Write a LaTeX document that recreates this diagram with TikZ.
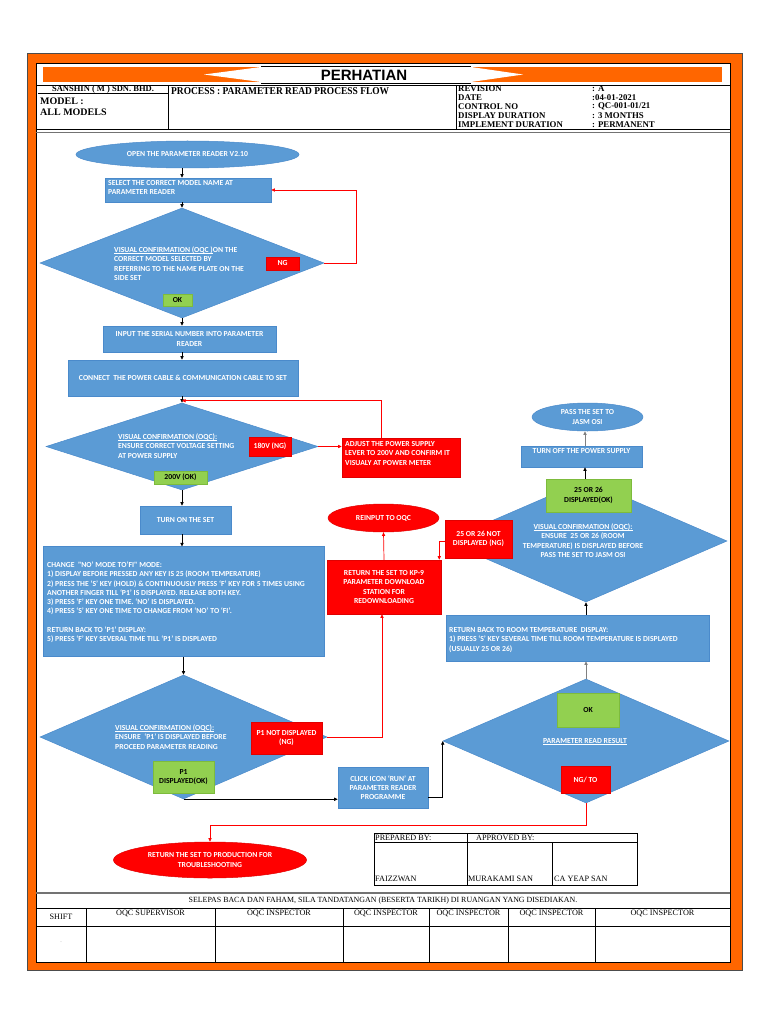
\documentclass[tikz,border=0pt]{standalone}
\usepackage{fontspec}
\setmainfont{Liberation Serif}
\newfontfamily\calfont{Carlito}
\newfontfamily\arialfont{Liberation Sans}
\usetikzlibrary{shapes.geometric,arrows.meta,calc}
\definecolor{blueF}{HTML}{5B9BD5}
\definecolor{blueD}{HTML}{4A8ACB}
\definecolor{redF}{HTML}{FF0000}
\definecolor{redD}{HTML}{E00000}
\definecolor{greenF}{HTML}{92D050}
\definecolor{greenD}{HTML}{7DBB3C}
\definecolor{orangeF}{HTML}{FF6600}
\newcommand\bxf{\calfont\bfseries\fontsize{7.7}{9.2}\selectfont}
\newcommand\hdf{\bfseries\fontsize{8.8}{9}\selectfont}
\newcommand\tbf{\fontsize{8.2}{9}\selectfont}
\newsavebox\ulbox
\newcommand\ulx[1]{\sbox\ulbox{#1}\rlap{\rule[-1.2pt]{\wd\ulbox}{0.45pt}}\usebox\ulbox}
\begin{document}
\begin{tikzpicture}[x=1pt,y=-1pt,
  bbox/.style={rectangle,fill=blueF,draw=blueD,line width=0.5pt,inner sep=0pt,text=white,font=\bxf,align=center},
  rbox/.style={rectangle,fill=redF,draw=redD,line width=0.5pt,inner sep=0pt,text=white,font=\bxf,align=center},
  gbox/.style={rectangle,fill=greenF,draw=greenD,line width=0.5pt,inner sep=0pt,text=black,font=\bxf,align=center},
  bdia/.style={diamond,fill=blueF,draw=blueD,line width=0.5pt,inner sep=0pt},
  bell/.style={ellipse,fill=blueF,draw=blueD,line width=0.5pt,inner sep=0pt,text=white,font=\bxf,align=center},
  rell/.style={ellipse,fill=redF,draw=redD,line width=0.5pt,inner sep=0pt,text=white,font=\bxf,align=center},
  txl/.style={inner sep=0pt,anchor=north west,align=left,text=white,font=\bxf},
  txc/.style={inner sep=0pt,anchor=north,align=center,text=white,font=\bxf},
  arr/.style={-{Triangle[length=3.6pt,width=3.2pt]},line width=0.7pt,black},
  garr/.style={-{Triangle[length=3.6pt,width=3.2pt]},line width=0.9pt,black!50},
  rarr/.style={-{Triangle[length=3.6pt,width=3.2pt]},line width=0.7pt,redF},
  hdr/.style={inner sep=0pt,anchor=west,font=\hdf},
  sig/.style={inner sep=0pt,anchor=west,font=\tbf},
  tbh/.style={inner sep=0pt,font=\tbf},
  rule/.style={line width=0.8pt}]
\useasboundingbox (0,0) rectangle (768,1024);
% frame
\filldraw[fill=orangeF,draw=black!70,line width=1pt] (27,54) rectangle (742,970);
\filldraw[fill=white,draw=black,line width=0.8pt] (36,63) rectangle (730,962);
% header
\fill[orangeF] (43,67) rectangle (722,82);
\fill[white] (204,74.5) -- (261,67) -- (471,67) -- (523,74.5) -- (471,82) -- (261,82) -- cycle;
\draw[rule] (261,66.3) -- (471,66.3) (261,83.6) -- (471,83.6);
\node[font=\arialfont\bfseries\fontsize{15}{16}\selectfont,inner sep=0pt] (ttl) at (364,75) {PERHATIAN};
\draw[rule] (36,85) -- (730,85);
\draw[line width=0.6pt] (38,93.5) -- (168,93.5);
\draw[rule] (168,85) -- (168,130) (456,85) -- (456,130);
\draw[rule] (36,129.5) -- (730,129.5);
\draw[line width=1.2pt,black!55] (36,132.6) -- (730,132.6);
\node[inner sep=0pt,font=\bfseries\fontsize{8.5}{9}\selectfont] (co) at (103,89) {SANSHIN ( M ) SDN. BHD.};
\node[hdr,font=\bfseries\fontsize{10}{11}\selectfont] (mdl) at (40,101) {MODEL :};
\node[hdr,font=\bfseries\fontsize{10}{11}\selectfont] (alm) at (40,112) {ALL MODELS};
\node[hdr,font=\bfseries\fontsize{10.5}{11}\selectfont] (proc) at (171,91.5) {\scalebox{0.9}[1]{PROCESS : PARAMETER READ PROCESS FLOW}};
\node[hdr] (h1) at (458,88.5) {REVISION};
\node[hdr] (h2) at (458,97.5) {DATE};
\node[hdr] (h3) at (458,106.5) {CONTROL NO};
\node[hdr] (h4) at (458,115.5) {DISPLAY DURATION};
\node[hdr] (h5) at (458,124.5) {IMPLEMENT DURATION};
\node[hdr] (v1) at (592,88.5) {: A};
\node[hdr] (v2) at (592,97.5) {:04-01-2021};
\node[hdr] (v3) at (592,106.5) {: QC-001-01/21};
\node[hdr] (v4) at (592,115.5) {: 3 MONTHS};
\node[hdr] (v5) at (592,124.5) {: PERMANENT};
% left column
\coordinate (spL) at (182,0);
\coordinate (spR) at (585,0);
\node[bell,minimum width=223,minimum height=27] (e1) at (187.5,154.5) {OPEN THE PARAMETER READER V2.10};
\node[bbox,minimum width=166,minimum height=24] (sel) at (188,190) {};
\node[txl] (selt) at (108,179) {\strut SELECT THE CORRECT MODEL NAME AT\\PARAMETER READER};
\node[bdia,minimum width=284,minimum height=110] (d1) at (182,263) {};
\node[txl] (d1t) at (114,246) {\strut\ulx{VISUAL CONFIRMATION (OQC )}ON THE\\CORRECT MODEL SELECTED BY\\REFERRING TO THE NAME PLATE ON THE\\SIDE SET};
\node[rbox,minimum width=33,minimum height=13] (ng1) at (282.5,263.5) {NG};
\node[gbox,minimum width=29,minimum height=12] (ok1) at (177.5,300) {OK};
\node[bbox,minimum width=173,minimum height=26] (inp) at (189.5,339) {INPUT THE SERIAL NUMBER INTO PARAMETER\\READER};
\node[bbox,minimum width=230,minimum height=36] (conn) at (183,378) {CONNECT~ THE POWER CABLE \& COMMUNICATION CABLE TO SET};
\node[bdia,minimum width=272,minimum height=87] (d2) at (182,446.5) {};
\node[txl] (d2t) at (118,433) {\strut\ulx{VISUAL CONFIRMATION (OQC):}\\ENSURE CORRECT VOLTAGE SETTING\\AT POWER SUPPLY};
\node[rbox,minimum width=42,minimum height=19] (ng2) at (270,446.5) {180V (NG)};
\node[gbox,minimum width=53,minimum height=13] (ok2) at (180.5,477.5) {200V (OK)};
\node[rbox,minimum width=118,minimum height=39] (adj) at (401,457.5) {};
\node[txl] (adjt) at (345,440) {\strut ADJUST THE POWER SUPPLY\\LEVER TO 200V AND CONFIRM IT\\VISUALY AT POWER METER};
\node[bbox,minimum width=91,minimum height=28] (ton) at (185.5,520) {TURN ON THE SET};
\node[bbox,minimum width=281,minimum height=110] (chg) at (183.4,601.7) {};
\node[txl] (chgt) at (47,561) {\strut CHANGE ~"NO’ MODE TO’FI" MODE:\\
1) DISPLAY BEFORE PRESSED ANY KEY IS 25 (ROOM TEMPERATURE)\\
2) PRESS THE ‘S’ KEY (HOLD) \& CONTINUOUSLY PRESS ‘F’ KEY FOR 5 TIMES USING\\
ANOTHER FINGER TILL ‘P1’ IS DISPLAYED. RELEASE BOTH KEY.\\
3) PRESS ‘F’ KEY ONE TIME. ‘NO’ IS DISPLAYED.\\
4) PRESS ‘S’ KEY ONE TIME TO CHANGE FROM ‘NO’ TO ‘FI’.\\
~\\
RETURN BACK TO ‘P1’ DISPLAY:\\
5) PRESS ‘F’ KEY SEVERAL TIME TILL ‘P1’ IS DISPLAYED};
\node[bdia,minimum width=287,minimum height=124] (d3) at (183.5,737) {};
\node[txl] (d3t) at (115,724) {\strut\ulx{VISUAL CONFIRMATION (OQC):}\\ENSURE~ ‘P1’ IS DISPLAYED BEFORE\\PROCEED PARAMETER READING};
\node[rbox,minimum width=71,minimum height=32] (ng3) at (286.5,738) {P1 NOT DISPLAYED\\(NG)};
\node[gbox,minimum width=61,minimum height=32] (ok3) at (183.5,777) {P1\\DISPLAYED(OK)};
\node[bbox,minimum width=90,minimum height=41] (clk) at (383,787.5) {CLICK ICON ‘RUN’ AT\\PARAMETER READER\\PROGRAMME};
% middle
\node[rbox,minimum width=114,minimum height=54] (kp9) at (384,587) {RETURN THE SET TO KP-9\\PARAMETER DOWNLOAD\\STATION FOR\\REDOWNLOADING};
\node[rell,minimum width=111,minimum height=28] (rein) at (383.5,518) {REINPUT TO OQC};
% right column
\node[bdia,minimum width=282,minimum height=122] (d4) at (586,541) {};
\node[txc] (d4t) at (583,523) {\strut\ulx{VISUAL CONFIRMATION (OQC):}\\ENSURE~ 25 OR 26 (ROOM\\TEMPERATURE) IS DISPLAYED BEFORE\\PASS THE SET TO JASM OSI};
\node[rbox,minimum width=67,minimum height=38] (ng4) at (478.5,539) {25 OR 26 NOT\\DISPLAYED (NG)};
\node[gbox,minimum width=85,minimum height=33] (ok4) at (588.5,495.5) {25 OR 26\\DISPLAYED(OK)};
\node[bbox,minimum width=121,minimum height=21] (toff) at (581.5,456.5) {};
\node[txc] (tofft) at (581.5,447) {\strut TURN OFF THE POWER SUPPLY};
\node[bell,minimum width=111,minimum height=28] (pass) at (587.5,417) {PASS THE SET TO\\JASM OSI};
\node[bbox,minimum width=263,minimum height=46] (rb) at (577.5,638) {};
\node[txl] (rbt) at (449,626) {\strut RETURN BACK TO ROOM TEMPERATURE~ DISPLAY:\\1) PRESS ‘S’ KEY SEVERAL TIME TILL ROOM TEMPERATURE IS DISPLAYED\\(USUALLY 25 OR 26)};
\node[bdia,minimum width=286,minimum height=124] (d5) at (586,741) {};
\node[gbox,minimum width=62,minimum height=34] (ok5) at (588,710) {OK};
\node[txc] (d5t) at (585,737) {\strut\ulx{PARAMETER READ RESULT}};
\node[rbox,minimum width=49,minimum height=27] (ng5) at (585.5,779.5) {NG/ TO};
\node[rell,minimum width=193,minimum height=36] (rp) at (210,860) {RETURN THE SET TO PRODUCTION FOR\\TROUBLESHOOTING};
% connectors
\draw[arr] (e1.south -| spL) -- (sel.north -| spL);
\draw[arr] (sel.south -| spL) -- (d1.north);
\draw[rarr] (d1.east) -- ++(32,0) |- (sel.east);
\draw[arr] (d1.south) -- (d1.south |- inp.north);
\draw[arr] (inp.south -| spL) -- (conn.north -| spL);
\draw[arr] (conn.south -| spL) -- (d2.north);
\draw[rarr] (d2.east) -- (d2.east -| adj.west);
\draw[rarr] ($(adj.north west)!0.33!(adj.north east)$) |- ([yshift=2pt]d2.north);
\draw[arr] (d2.south) -- (d2.south |- ton.north);
\draw[arr] (ton.south -| spL) -- (chg.north -| spL);
\draw[arr] (chg.south -| d3.north) -- (d3.north);
\draw[arr] (d3.south) -- (d3.south -| clk.west);
\draw[rarr] (d3.east) -| ([xshift=-2pt]kp9.south);
\draw[rarr] (kp9.north) -- (rein.south);
\draw[rarr] (d4.west) -| ([xshift=-2pt]kp9.north east);
\draw[arr] ([yshift=-9.5pt]clk.east) -| (d5.west);
\draw[garr] (d5.north) -- (d5.north |- rb.south);
\draw[arr] (d4.south |- rb.north) -- (d4.south);
\draw[arr] (ok4.north -| spR) -- (toff.south -| spR);
\draw[garr] (toff.north -| spR) -- (pass.south -| spR);
\draw[rarr] (d5.south) -- ++(0,22) -| (rp.north);
% signature table
\draw[rule] (374,833) rectangle (637,885);
\draw[rule] (374,842) -- (637,842) (467,833) -- (467,885) (552,842) -- (552,885);
\node[sig] (pb) at (375,837.5) {PREPARED BY:};
\node[sig] (ab) at (476,837.5) {APPROVED BY:};
\node[sig] (n1) at (375,879) {FAIZZWAN};
\node[sig] (n2) at (468,879) {MURAKAMI SAN};
\node[sig] (n3) at (554,879) {CA YEAP SAN};
% bottom table
\draw[line width=1.2pt,black!55] (36,893) -- (730,893);
\draw[rule] (36,908) -- (730,908) (36,926) -- (730,926);
\foreach \xx in {86,215,343,429,508,595} \draw[rule] (\xx,908) -- (\xx,962);
\node[tbh,font=\fontsize{7.9}{9}\selectfont] (sel2) at (383,900.5) {SELEPAS BACA DAN FAHAM, SILA TANDATANGAN (BESERTA TARIKH) DI RUANGAN YANG DISEDIAKAN.};
\node[tbh] (c0) at (61,917) {SHIFT};
\node[tbh] (c1) at (150.5,913) {OQC SUPERVISOR};
\node[tbh] (c2) at (279,913) {OQC INSPECTOR};
\node[tbh] (c3) at (386,913) {OQC INSPECTOR};
\node[tbh] (c4) at (468.5,913) {OQC INSPECTOR};
\node[tbh] (c5) at (551.5,913) {OQC INSPECTOR};
\node[tbh] (c6) at (662.5,913) {OQC INSPECTOR};
\node[tbh,text=black!40,font=\fontsize{6}{6}\selectfont] (dot) at (61,942) {.};
\end{tikzpicture}
\end{document}
